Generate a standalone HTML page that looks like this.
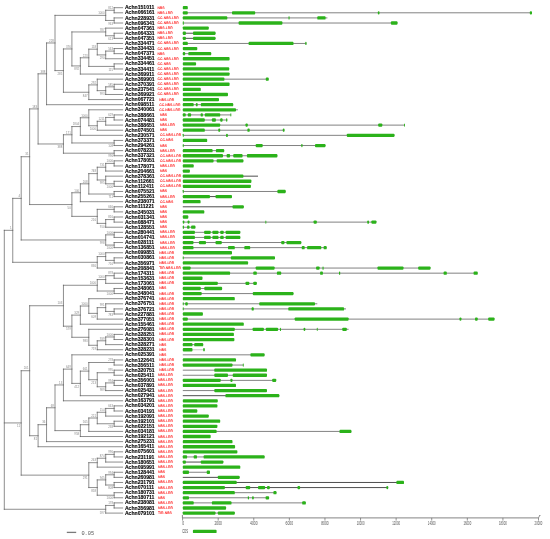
<!DOCTYPE html>
<html lang="en"><head><meta charset="utf-8"><title>Phylogenetic tree and gene structure</title>
<style>html,body{margin:0;padding:0;background:#fff}svg{display:block}.t{stroke:#505050;stroke-width:.65;fill:none;stroke-linecap:square}.n{font:bold 5.12px "Liberation Sans",Arial,sans-serif;fill:#000;stroke:#000;stroke-width:.1}.ty{font:3.45px "Liberation Sans",Arial,sans-serif;fill:#ff1414;stroke:#ff1414;stroke-width:.1;text-rendering:geometricPrecision}.b{font:2.9px "Liberation Sans",Arial,sans-serif;fill:#8a8a8a;text-anchor:end}.ax{font:4.5px "Liberation Sans",Arial,sans-serif;fill:#555;text-anchor:middle}.e{fill:#2bb21a}.i{stroke:#828282;stroke-width:1}.id{stroke:#3a3a3a;stroke-width:.9}.il{stroke:#bbb;stroke-width:.8}</style></head><body>
<svg width="550" height="539" viewBox="0 0 550 539">
<rect width="550" height="539" fill="#fff"/>
<path class="t" d="M4.30 230.33L4.30 509.27M4.30 230.33L12.75 230.33M12.75 198.36L12.75 262.31M12.75 198.36L21.20 198.36M21.20 156.73L21.20 239.98M21.20 156.73L29.65 156.73M29.65 108.91L29.65 204.56M29.65 108.91L38.10 108.91M38.10 73.84L38.10 143.98M38.10 73.84L46.55 73.84M46.55 42.98L46.55 104.70M46.55 42.98L55.00 42.98M55.00 15.36L55.00 70.60M55.00 15.36L105.70 15.36M105.70 10.25L105.70 20.46M105.70 10.25L114.15 10.25M114.15 7.70L114.15 12.80M114.15 7.70L122.60 7.70M114.15 12.80L122.60 12.80M105.70 20.46L114.15 20.46M114.15 17.91L114.15 23.02M114.15 17.91L122.60 17.91M114.15 23.02L122.60 23.02M55.00 70.60L63.45 70.60M63.45 48.94L63.45 92.25M63.45 48.94L71.90 48.94M71.90 31.95L71.90 65.93M71.90 31.95L105.70 31.95M105.70 28.12L105.70 35.78M105.70 28.12L122.60 28.12M105.70 35.78L114.15 35.78M114.15 33.23L114.15 38.33M114.15 33.23L122.60 33.23M114.15 38.33L122.60 38.33M71.90 65.93L80.35 65.93M80.35 57.79L80.35 74.07M80.35 57.79L88.80 57.79M88.80 49.18L88.80 66.41M88.80 49.18L97.25 49.18M97.25 43.44L97.25 54.92M97.25 43.44L122.60 43.44M97.25 54.92L105.70 54.92M105.70 51.09L105.70 58.75M105.70 51.09L114.15 51.09M114.15 48.54L114.15 53.65M114.15 48.54L122.60 48.54M114.15 53.65L122.60 53.65M105.70 58.75L122.60 58.75M88.80 66.41L114.15 66.41M114.15 63.86L114.15 68.96M114.15 63.86L122.60 63.86M114.15 68.96L122.60 68.96M80.35 74.07L122.60 74.07M63.45 92.25L88.80 92.25M88.80 84.91L88.80 99.59M88.80 84.91L97.25 84.91M97.25 79.17L97.25 90.66M97.25 79.17L122.60 79.17M97.25 90.66L105.70 90.66M105.70 86.83L105.70 94.49M105.70 86.83L114.15 86.83M114.15 84.28L114.15 89.38M114.15 84.28L122.60 84.28M114.15 89.38L122.60 89.38M105.70 94.49L122.60 94.49M88.80 99.59L122.60 99.59M46.55 104.70L122.60 104.70M38.10 143.98L63.45 143.98M63.45 134.77L63.45 153.19M63.45 134.77L71.90 134.77M71.90 126.55L71.90 142.98M71.90 126.55L80.35 126.55M80.35 117.78L80.35 135.33M80.35 117.78L88.80 117.78M88.80 109.80L88.80 125.75M88.80 109.80L122.60 109.80M88.80 125.75L97.25 125.75M97.25 121.29L97.25 130.22M97.25 121.29L105.70 121.29M105.70 117.46L105.70 125.12M105.70 117.46L114.15 117.46M114.15 114.91L114.15 120.01M114.15 114.91L122.60 114.91M114.15 120.01L122.60 120.01M105.70 125.12L122.60 125.12M97.25 130.22L122.60 130.22M80.35 135.33L122.60 135.33M71.90 142.98L114.15 142.98M114.15 140.43L114.15 145.53M114.15 140.43L122.60 140.43M114.15 145.53L122.60 145.53M63.45 153.19L114.15 153.19M114.15 150.64L114.15 155.75M114.15 150.64L122.60 150.64M114.15 155.75L122.60 155.75M29.65 204.56L71.90 204.56M71.90 192.76L71.90 216.37M71.90 192.76L80.35 192.76M80.35 183.82L80.35 201.69M80.35 183.82L88.80 183.82M88.80 173.61L88.80 194.03M88.80 173.61L97.25 173.61M97.25 167.23L97.25 179.99M97.25 167.23L105.70 167.23M105.70 163.40L105.70 171.06M105.70 163.40L114.15 163.40M114.15 160.85L114.15 165.96M114.15 160.85L122.60 160.85M114.15 165.96L122.60 165.96M105.70 171.06L122.60 171.06M97.25 179.99L105.70 179.99M105.70 176.16L105.70 183.82M105.70 176.16L122.60 176.16M105.70 183.82L114.15 183.82M114.15 181.27L114.15 186.38M114.15 181.27L122.60 181.27M114.15 186.38L122.60 186.38M88.80 194.03L114.15 194.03M114.15 191.48L114.15 196.59M114.15 191.48L122.60 191.48M114.15 196.59L122.60 196.59M80.35 201.69L122.60 201.69M71.90 216.37L97.25 216.37M97.25 209.35L97.25 223.39M97.25 209.35L114.15 209.35M114.15 206.80L114.15 211.90M114.15 206.80L122.60 206.80M114.15 211.90L122.60 211.90M97.25 223.39L105.70 223.39M105.70 219.56L105.70 227.22M105.70 219.56L114.15 219.56M114.15 217.00L114.15 222.11M114.15 217.00L122.60 217.00M114.15 222.11L122.60 222.11M105.70 227.22L122.60 227.22M21.20 239.98L105.70 239.98M105.70 234.87L105.70 245.08M105.70 234.87L114.15 234.87M114.15 232.32L114.15 237.43M114.15 232.32L122.60 232.32M114.15 237.43L122.60 237.43M105.70 245.08L114.15 245.08M114.15 242.53L114.15 247.64M114.15 242.53L122.60 242.53M114.15 247.64L122.60 247.64M12.75 262.31L97.25 262.31M97.25 256.57L97.25 268.06M97.25 256.57L105.70 256.57M105.70 252.74L105.70 260.40M105.70 252.74L122.60 252.74M105.70 260.40L114.15 260.40M114.15 257.85L114.15 262.95M114.15 257.85L122.60 257.85M114.15 262.95L122.60 262.95M97.25 268.06L122.60 268.06M4.30 422.93L21.20 422.93M21.20 370.73L21.20 475.13M21.20 370.73L29.65 370.73M29.65 305.74L29.65 435.72M29.65 305.74L63.45 305.74M63.45 285.28L63.45 326.20M63.45 285.28L97.25 285.28M97.25 279.54L97.25 291.03M97.25 279.54L105.70 279.54M105.70 275.71L105.70 283.37M105.70 275.71L114.15 275.71M114.15 273.16L114.15 278.26M114.15 273.16L122.60 273.16M114.15 278.26L122.60 278.26M105.70 283.37L122.60 283.37M97.25 291.03L114.15 291.03M114.15 288.48L114.15 293.58M114.15 288.48L122.60 288.48M114.15 293.58L122.60 293.58M63.45 326.20L71.90 326.20M71.90 315.12L71.90 337.29M71.90 315.12L80.35 315.12M80.35 306.02L80.35 324.21M80.35 306.02L88.80 306.02M88.80 298.69L88.80 313.36M88.80 298.69L122.60 298.69M88.80 313.36L97.25 313.36M97.25 307.62L97.25 319.11M97.25 307.62L105.70 307.62M105.70 303.79L105.70 311.45M105.70 303.79L122.60 303.79M105.70 311.45L114.15 311.45M114.15 308.90L114.15 314.00M114.15 308.90L122.60 308.90M114.15 314.00L122.60 314.00M97.25 319.11L122.60 319.11M80.35 324.21L122.60 324.21M71.90 337.29L88.80 337.29M88.80 329.31L88.80 345.27M88.80 329.31L122.60 329.31M88.80 345.27L97.25 345.27M97.25 340.80L97.25 349.74M97.25 340.80L105.70 340.80M105.70 336.97L105.70 344.63M105.70 336.97L114.15 336.97M114.15 334.42L114.15 339.53M114.15 334.42L122.60 334.42M114.15 339.53L122.60 339.53M105.70 344.63L122.60 344.63M97.25 349.74L122.60 349.74M29.65 435.72L38.10 435.72M38.10 424.70L38.10 446.73M38.10 424.70L46.55 424.70M46.55 407.78L46.55 441.62M46.55 407.78L55.00 407.78M55.00 384.95L55.00 430.62M55.00 384.95L63.45 384.95M63.45 369.12L63.45 400.79M63.45 369.12L71.90 369.12M71.90 354.84L71.90 383.40M71.90 354.84L122.60 354.84M71.90 383.40L80.35 383.40M80.35 371.11L80.35 395.68M80.35 371.11L88.80 371.11M88.80 362.50L88.80 379.73M88.80 362.50L114.15 362.50M114.15 359.94L114.15 365.05M114.15 359.94L122.60 359.94M114.15 365.05L122.60 365.05M88.80 379.73L97.25 379.73M97.25 372.71L97.25 386.75M97.25 372.71L114.15 372.71M114.15 370.16L114.15 375.26M114.15 370.16L122.60 370.16M114.15 375.26L122.60 375.26M97.25 386.75L105.70 386.75M105.70 382.92L105.70 390.58M105.70 382.92L114.15 382.92M114.15 380.37L114.15 385.47M114.15 380.37L122.60 380.37M114.15 385.47L122.60 385.47M105.70 390.58L122.60 390.58M80.35 395.68L122.60 395.68M63.45 400.79L122.60 400.79M55.00 430.62L80.35 430.62M80.35 424.71L80.35 436.52M80.35 424.71L88.80 424.71M88.80 418.01L88.80 431.42M88.80 418.01L97.25 418.01M97.25 412.27L97.25 423.76M97.25 412.27L105.70 412.27M105.70 408.44L105.70 416.10M105.70 408.44L114.15 408.44M114.15 405.89L114.15 411.00M114.15 405.89L122.60 405.89M114.15 411.00L122.60 411.00M105.70 416.10L122.60 416.10M97.25 423.76L114.15 423.76M114.15 421.21L114.15 426.31M114.15 421.21L122.60 421.21M114.15 426.31L122.60 426.31M88.80 431.42L122.60 431.42M80.35 436.52L122.60 436.52M46.55 441.62L122.60 441.62M38.10 446.73L122.60 446.73M21.20 475.13L88.80 475.13M88.80 462.68L88.80 487.57M88.80 462.68L97.25 462.68M97.25 458.22L97.25 467.15M97.25 458.22L105.70 458.22M105.70 454.39L105.70 462.05M105.70 454.39L114.15 454.39M114.15 451.84L114.15 456.94M114.15 451.84L122.60 451.84M114.15 456.94L122.60 456.94M105.70 462.05L122.60 462.05M97.25 467.15L122.60 467.15M88.80 487.57L97.25 487.57M97.25 479.91L97.25 495.23M97.25 479.91L105.70 479.91M105.70 474.81L105.70 485.02M105.70 474.81L114.15 474.81M114.15 472.26L114.15 477.36M114.15 472.26L122.60 472.26M114.15 477.36L122.60 477.36M105.70 485.02L114.15 485.02M114.15 482.47L114.15 487.57M114.15 482.47L122.60 482.47M114.15 487.57L122.60 487.57M97.25 495.23L114.15 495.23M114.15 492.68L114.15 497.78M114.15 492.68L122.60 492.68M114.15 497.78L122.60 497.78M4.30 509.27L105.70 509.27M105.70 505.44L105.70 513.10M105.70 505.44L114.15 505.44M114.15 502.89L114.15 507.99M114.15 502.89L122.60 502.89M114.15 507.99L122.60 507.99M105.70 513.10L122.60 513.10"/>
<g class="b">
<text x="11.7" y="229.0">1</text>
<text x="20.1" y="197.1">4</text>
<text x="28.5" y="155.4">31</text>
<text x="37.0" y="107.6">183</text>
<text x="45.4" y="72.5">388</text>
<text x="53.9" y="41.7">228</text>
<text x="104.6" y="14.1">1000</text>
<text x="113.0" y="9.0">812</text>
<text x="113.0" y="24.7">963</text>
<text x="62.3" y="74.8">285</text>
<text x="70.8" y="47.6">376</text>
<text x="104.6" y="30.6">787</text>
<text x="113.0" y="40.0">613</text>
<text x="79.2" y="70.1">892</text>
<text x="87.7" y="56.5">223</text>
<text x="96.1" y="47.9">118</text>
<text x="104.6" y="59.1">290</text>
<text x="113.0" y="49.8">563</text>
<text x="113.0" y="70.6">115</text>
<text x="87.7" y="96.5">847</text>
<text x="96.1" y="83.6">292</text>
<text x="104.6" y="94.9">993</text>
<text x="113.0" y="85.5">585</text>
<text x="62.3" y="148.2">388</text>
<text x="70.8" y="133.5">171</text>
<text x="79.2" y="125.3">1804</text>
<text x="87.7" y="116.5">1000</text>
<text x="96.1" y="130.0">1000</text>
<text x="104.6" y="120.0">1211</text>
<text x="113.0" y="116.2">629</text>
<text x="113.0" y="147.2">108</text>
<text x="113.0" y="157.4">996</text>
<text x="70.8" y="208.8">50</text>
<text x="79.2" y="191.5">100</text>
<text x="87.7" y="182.5">208</text>
<text x="96.1" y="172.3">748</text>
<text x="104.6" y="165.9">731</text>
<text x="113.0" y="162.1">1000</text>
<text x="104.6" y="184.2">995</text>
<text x="113.0" y="188.0">1000</text>
<text x="113.0" y="198.2">711</text>
<text x="96.1" y="220.6">216</text>
<text x="113.0" y="208.0">666</text>
<text x="104.6" y="227.6">910</text>
<text x="113.0" y="218.3">816</text>
<text x="104.6" y="244.2">998</text>
<text x="113.0" y="233.6">1000</text>
<text x="113.0" y="249.3">1000</text>
<text x="96.1" y="266.5">836</text>
<text x="104.6" y="255.3">1000</text>
<text x="113.0" y="264.6">716</text>
<text x="20.1" y="427.1">11</text>
<text x="28.5" y="369.4">201</text>
<text x="62.3" y="304.4">103</text>
<text x="96.1" y="284.0">1000</text>
<text x="104.6" y="278.2">1000</text>
<text x="113.0" y="274.4">878</text>
<text x="113.0" y="295.2">1000</text>
<text x="70.8" y="330.4">579</text>
<text x="79.2" y="313.8">329</text>
<text x="87.7" y="304.7">1000</text>
<text x="96.1" y="317.6">609</text>
<text x="104.6" y="306.3">991</text>
<text x="113.0" y="315.6">783</text>
<text x="87.7" y="341.5">983</text>
<text x="96.1" y="349.5">719</text>
<text x="104.6" y="339.5">939</text>
<text x="113.0" y="335.7">1000</text>
<text x="37.0" y="439.9">81</text>
<text x="45.4" y="423.4">36</text>
<text x="53.9" y="406.5">69</text>
<text x="62.3" y="383.7">13</text>
<text x="70.8" y="367.8">649</text>
<text x="79.2" y="387.6">412</text>
<text x="87.7" y="369.8">661</text>
<text x="113.0" y="361.2">278</text>
<text x="96.1" y="383.9">213</text>
<text x="113.0" y="371.4">995</text>
<text x="104.6" y="390.9">989</text>
<text x="113.0" y="381.6">994</text>
<text x="79.2" y="434.8">958</text>
<text x="87.7" y="423.4">565</text>
<text x="96.1" y="416.7">221</text>
<text x="104.6" y="411.0">154</text>
<text x="113.0" y="407.1">663</text>
<text x="113.0" y="428.0">238</text>
<text x="87.7" y="479.3">291</text>
<text x="96.1" y="461.4">263</text>
<text x="104.6" y="456.9">874</text>
<text x="113.0" y="453.1">996</text>
<text x="96.1" y="491.8">858</text>
<text x="104.6" y="478.6">945</text>
<text x="113.0" y="473.5">994</text>
<text x="113.0" y="489.2">808</text>
<text x="113.0" y="499.4">1000</text>
<text x="104.6" y="513.5">597</text>
<text x="113.0" y="504.1">178</text>
</g>
<g class="n">
<text x="124.9" y="9.30">Achn151011</text>
<text x="124.9" y="14.40">Achn066161</text>
<text x="124.9" y="19.51">Achn228931</text>
<text x="124.9" y="24.62">Achn096341</text>
<text x="124.9" y="29.72">Achn047361</text>
<text x="124.9" y="34.83">Achn064331</text>
<text x="124.9" y="39.93">Achn047351</text>
<text x="124.9" y="45.04">Achn334471</text>
<text x="124.9" y="50.14">Achn334431</text>
<text x="124.9" y="55.25">Achn047371</text>
<text x="124.9" y="60.35">Achn334451</text>
<text x="124.9" y="65.45">Achn334461</text>
<text x="124.9" y="70.56">Achn334411</text>
<text x="124.9" y="75.67">Achn369911</text>
<text x="124.9" y="80.77">Achn369901</text>
<text x="124.9" y="85.88">Achn370391</text>
<text x="124.9" y="90.98">Achn237541</text>
<text x="124.9" y="96.09">Achn369921</text>
<text x="124.9" y="101.19">Achn067721</text>
<text x="124.9" y="106.30">Achn098511</text>
<text x="124.9" y="111.40">Achn340061</text>
<text x="124.9" y="116.51">Achn388661</text>
<text x="124.9" y="121.61">Achn074481</text>
<text x="124.9" y="126.72">Achn388651</text>
<text x="124.9" y="131.82">Achn074501</text>
<text x="124.9" y="136.93">Achn230571</text>
<text x="124.9" y="142.03">Achn373371</text>
<text x="124.9" y="147.13">Achn294261</text>
<text x="124.9" y="152.24">Achn078231</text>
<text x="124.9" y="157.34">Achn337321</text>
<text x="124.9" y="162.45">Achn178051</text>
<text x="124.9" y="167.56">Achn178071</text>
<text x="124.9" y="172.66">Achn204661</text>
<text x="124.9" y="177.76">Achn378361</text>
<text x="124.9" y="182.87">Achn112661</text>
<text x="124.9" y="187.97">Achn112411</text>
<text x="124.9" y="193.08">Achn075521</text>
<text x="124.9" y="198.19">Achn255261</text>
<text x="124.9" y="203.29">Achn238071</text>
<text x="124.9" y="208.40">Achn111221</text>
<text x="124.9" y="213.50">Achn345031</text>
<text x="124.9" y="218.60">Achn031341</text>
<text x="124.9" y="223.71">Achn088471</text>
<text x="124.9" y="228.81">Achn128551</text>
<text x="124.9" y="233.92">Achn280441</text>
<text x="124.9" y="239.03">Achn014741</text>
<text x="124.9" y="244.13">Achn028111</text>
<text x="124.9" y="249.24">Achn136851</text>
<text x="124.9" y="254.34">Achn099851</text>
<text x="124.9" y="259.45">Achn030861</text>
<text x="124.9" y="264.55">Achn356971</text>
<text x="124.9" y="269.66">Achn208841</text>
<text x="124.9" y="274.76">Achn174311</text>
<text x="124.9" y="279.87">Achn153631</text>
<text x="124.9" y="284.97">Achn173061</text>
<text x="124.9" y="290.08">Achn348061</text>
<text x="124.9" y="295.18">Achn348041</text>
<text x="124.9" y="300.29">Achn376741</text>
<text x="124.9" y="305.39">Achn376751</text>
<text x="124.9" y="310.50">Achn376721</text>
<text x="124.9" y="315.60">Achn227881</text>
<text x="124.9" y="320.71">Achn377051</text>
<text x="124.9" y="325.81">Achn155461</text>
<text x="124.9" y="330.92">Achn276081</text>
<text x="124.9" y="336.02">Achn328251</text>
<text x="124.9" y="341.13">Achn328301</text>
<text x="124.9" y="346.23">Achn328271</text>
<text x="124.9" y="351.34">Achn328231</text>
<text x="124.9" y="356.44">Achn025391</text>
<text x="124.9" y="361.55">Achn122641</text>
<text x="124.9" y="366.65">Achn356511</text>
<text x="124.9" y="371.76">Achn320751</text>
<text x="124.9" y="376.86">Achn025411</text>
<text x="124.9" y="381.97">Achn356001</text>
<text x="124.9" y="387.07">Achn037891</text>
<text x="124.9" y="392.18">Achn025421</text>
<text x="124.9" y="397.28">Achn027941</text>
<text x="124.9" y="402.39">Achn163791</text>
<text x="124.9" y="407.49">Achn034201</text>
<text x="124.9" y="412.60">Achn034191</text>
<text x="124.9" y="417.70">Achn192091</text>
<text x="124.9" y="422.81">Achn192101</text>
<text x="124.9" y="427.91">Achn022151</text>
<text x="124.9" y="433.02">Achn034181</text>
<text x="124.9" y="438.12">Achn192121</text>
<text x="124.9" y="443.23">Achn275231</text>
<text x="124.9" y="448.33">Achn165411</text>
<text x="124.9" y="453.44">Achn075601</text>
<text x="124.9" y="458.54">Achn231191</text>
<text x="124.9" y="463.65">Achn180651</text>
<text x="124.9" y="468.75">Achn095991</text>
<text x="124.9" y="473.86">Achn128441</text>
<text x="124.9" y="478.96">Achn260981</text>
<text x="124.9" y="484.07">Achn231791</text>
<text x="124.9" y="489.17">Achn070111</text>
<text x="124.9" y="494.28">Achn180731</text>
<text x="124.9" y="499.38">Achn180711</text>
<text x="124.9" y="504.49">Achn238081</text>
<text x="124.9" y="509.59">Achn356981</text>
<text x="124.9" y="514.70">Achn079101</text>
</g><g class="ty">
<text x="157.6" y="8.70">NBS</text>
<text x="157.6" y="13.80">NBS-LRR</text>
<text x="157.6" y="18.91">CC-NBS-LRR</text>
<text x="157.6" y="24.02">CC-NBS-LRR</text>
<text x="157.6" y="29.12">NBS-LRR</text>
<text x="157.6" y="34.23">NBS-LRR</text>
<text x="157.6" y="39.33">NBS-LRR</text>
<text x="157.6" y="44.44">CC-NBS-LRR</text>
<text x="157.6" y="49.54">CC-NBS-LRR</text>
<text x="157.6" y="54.65">NBS</text>
<text x="157.6" y="59.75">CC-NBS-LRR</text>
<text x="157.6" y="64.86">CC-NBS</text>
<text x="157.6" y="69.96">CC-NBS-LRR</text>
<text x="157.6" y="75.07">CC-NBS-LRR</text>
<text x="157.6" y="80.17">CC-NBS-LRR</text>
<text x="157.6" y="85.28">CC-NBS-LRR</text>
<text x="157.6" y="90.38">CC-NBS-LRR</text>
<text x="157.6" y="95.49">CC-NBS-LRR</text>
<text x="159.2" y="100.59">NBS-LRR</text>
<text x="159.2" y="105.70">CC-NBS-LRR</text>
<text x="159.2" y="110.80">CC-NBS-LRR</text>
<text x="160.0" y="115.91">NBS</text>
<text x="160.0" y="121.01">NBS</text>
<text x="160.0" y="126.12">NBS-LRR</text>
<text x="160.0" y="131.22">NBS</text>
<text x="160.0" y="136.33">CC-NBS-LRR</text>
<text x="160.0" y="141.43">CC-NBS</text>
<text x="160.0" y="146.53">NBS</text>
<text x="160.0" y="151.64">NBS-LRR</text>
<text x="160.0" y="156.75">CC-NBS-LRR</text>
<text x="160.0" y="161.85">CC-NBS-LRR</text>
<text x="160.0" y="166.96">NBS-LRR</text>
<text x="160.0" y="172.06">NBS</text>
<text x="160.0" y="177.16">CC-NBS-LRR</text>
<text x="160.0" y="182.27">CC-NBS-LRR</text>
<text x="160.0" y="187.38">CC-NBS-LRR</text>
<text x="160.0" y="192.48">NBS</text>
<text x="160.0" y="197.59">NBS-LRR</text>
<text x="160.0" y="202.69">CC-NBS</text>
<text x="160.0" y="207.80">NBS</text>
<text x="160.0" y="212.90">NBS</text>
<text x="160.0" y="218.00">NBS</text>
<text x="160.0" y="223.11">NBS</text>
<text x="160.0" y="228.22">NBS</text>
<text x="160.0" y="233.32">NBS-LRR</text>
<text x="160.0" y="238.43">NBS-LRR</text>
<text x="160.0" y="243.53">NBS-LRR</text>
<text x="160.0" y="248.64">NBS-LRR</text>
<text x="159.2" y="253.74">NBS-LRR</text>
<text x="159.2" y="258.85">NBS-LRR</text>
<text x="159.2" y="263.95">NBS-LRR</text>
<text x="159.2" y="269.06">TIR-NBS-LRR</text>
<text x="159.2" y="274.16">NBS-LRR</text>
<text x="159.2" y="279.26">NBS-LRR</text>
<text x="159.2" y="284.37">NBS-LRR</text>
<text x="159.2" y="289.48">NBS</text>
<text x="159.2" y="294.58">NBS-LRR</text>
<text x="159.2" y="299.69">NBS-LRR</text>
<text x="159.2" y="304.79">NBS-LRR</text>
<text x="159.2" y="309.90">NBS-LRR</text>
<text x="159.2" y="315.00">NBS-LRR</text>
<text x="159.2" y="320.11">NBS-LRR</text>
<text x="159.2" y="325.21">NBS-LRR</text>
<text x="159.2" y="330.31">NBS-LRR</text>
<text x="159.2" y="335.42">NBS-LRR</text>
<text x="159.2" y="340.53">NBS-LRR</text>
<text x="159.2" y="345.63">NBS</text>
<text x="159.2" y="350.74">NBS</text>
<text x="159.2" y="355.84">NBS</text>
<text x="159.2" y="360.94">NBS-LRR</text>
<text x="159.2" y="366.05">NBS-LRR</text>
<text x="159.2" y="371.16">NBS-LRR</text>
<text x="158.0" y="376.26">NBS-LRR</text>
<text x="158.0" y="381.37">NBS-LRR</text>
<text x="158.0" y="386.47">NBS-LRR</text>
<text x="158.0" y="391.58">NBS-LRR</text>
<text x="158.0" y="396.68">NBS-LRR</text>
<text x="158.0" y="401.79">NBS-LRR</text>
<text x="158.0" y="406.89">NBS-LRR</text>
<text x="158.0" y="412.00">NBS-LRR</text>
<text x="158.0" y="417.10">NBS-LRR</text>
<text x="158.0" y="422.21">NBS-LRR</text>
<text x="158.0" y="427.31">NBS-LRR</text>
<text x="158.0" y="432.42">NBS-LRR</text>
<text x="158.0" y="437.52">NBS-LRR</text>
<text x="158.0" y="442.62">NBS-LRR</text>
<text x="158.0" y="447.73">NBS-LRR</text>
<text x="158.0" y="452.84">NBS-LRR</text>
<text x="158.0" y="457.94">NBS-LRR</text>
<text x="158.0" y="463.05">NBS-LRR</text>
<text x="158.0" y="468.15">NBS-LRR</text>
<text x="158.0" y="473.26">NBS</text>
<text x="158.0" y="478.36">NBS</text>
<text x="158.0" y="483.47">NBS-LRR</text>
<text x="158.0" y="488.57">NBS-LRR</text>
<text x="158.0" y="493.68">NBS-LRR</text>
<text x="158.0" y="498.78">NBS</text>
<text x="158.0" y="503.89">NBS-LRR</text>
<text x="158.0" y="508.99">NBS-LRR</text>
<text x="158.0" y="514.10">TIR-NBS</text>
</g>
<rect class="e" x="182.8" y="6.05" width="5.0" height="3.3" rx="0.90"/>
<line class="i" x1="182.8" y1="12.80" x2="532.0" y2="12.80"/>
<rect class="e" x="182.8" y="11.15" width="5.0" height="3.3" rx="0.90"/>
<rect class="e" x="232.0" y="11.15" width="23.2" height="3.3" rx="0.90"/>
<rect class="e" x="377.8" y="11.15" width="1.7" height="3.3" rx="0.85"/>
<rect class="e" x="529.8" y="11.15" width="2.2" height="3.3" rx="0.90"/>
<line class="i" x1="182.8" y1="17.91" x2="327.4" y2="17.91"/>
<rect class="e" x="182.8" y="16.26" width="44.5" height="3.3" rx="0.90"/>
<rect class="e" x="288.5" y="16.26" width="1.1" height="3.3" rx="0.55"/>
<rect class="e" x="317.3" y="16.26" width="8.3" height="3.3" rx="0.90"/>
<line class="i" x1="182.8" y1="23.02" x2="397.5" y2="23.02"/>
<rect class="e" x="182.8" y="21.37" width="1.0" height="3.3" rx="0.50"/>
<rect class="e" x="238.6" y="21.37" width="43.8" height="3.3" rx="0.90"/>
<rect class="e" x="390.9" y="21.37" width="6.6" height="3.3" rx="0.90"/>
<rect class="e" x="182.8" y="26.47" width="26.0" height="3.3" rx="0.90"/>
<line class="id" x1="182.8" y1="33.23" x2="215.5" y2="33.23"/>
<rect class="e" x="182.8" y="31.58" width="3.1" height="3.3" rx="0.90"/>
<rect class="e" x="193.0" y="31.58" width="22.5" height="3.3" rx="0.90"/>
<line class="id" x1="182.8" y1="38.33" x2="215.5" y2="38.33"/>
<rect class="e" x="182.8" y="36.68" width="3.1" height="3.3" rx="0.90"/>
<rect class="e" x="193.0" y="36.68" width="22.5" height="3.3" rx="0.90"/>
<line class="i" x1="182.8" y1="43.44" x2="306.5" y2="43.44"/>
<rect class="e" x="182.8" y="41.79" width="5.0" height="3.3" rx="0.90"/>
<rect class="e" x="248.6" y="41.79" width="44.9" height="3.3" rx="0.90"/>
<rect class="e" x="305.3" y="41.79" width="1.2" height="3.3" rx="0.60"/>
<rect class="e" x="182.8" y="46.89" width="14.5" height="3.3" rx="0.90"/>
<line class="i" x1="182.8" y1="53.65" x2="211.2" y2="53.65"/>
<rect class="e" x="182.8" y="52.00" width="2.4" height="3.3" rx="0.90"/>
<rect class="e" x="188.3" y="52.00" width="22.9" height="3.3" rx="0.90"/>
<rect class="e" x="182.8" y="57.10" width="46.8" height="3.3" rx="0.90"/>
<rect class="e" x="182.8" y="62.21" width="13.3" height="3.3" rx="0.90"/>
<rect class="e" x="182.8" y="67.31" width="46.4" height="3.3" rx="0.90"/>
<rect class="e" x="182.8" y="72.42" width="46.8" height="3.3" rx="0.90"/>
<line class="i" x1="182.8" y1="79.17" x2="268.7" y2="79.17"/>
<rect class="e" x="182.8" y="77.52" width="41.6" height="3.3" rx="0.90"/>
<rect class="e" x="265.8" y="77.52" width="2.9" height="3.3" rx="0.90"/>
<rect class="e" x="182.8" y="82.62" width="46.8" height="3.3" rx="0.90"/>
<rect class="e" x="182.8" y="87.73" width="18.0" height="3.3" rx="0.90"/>
<rect class="e" x="182.8" y="92.84" width="45.2" height="3.3" rx="0.90"/>
<rect class="e" x="182.8" y="97.94" width="36.2" height="3.3" rx="0.90"/>
<line class="i" x1="182.8" y1="104.70" x2="233.2" y2="104.70"/>
<rect class="e" x="182.8" y="103.05" width="10.9" height="3.3" rx="0.90"/>
<rect class="e" x="195.8" y="103.05" width="1.9" height="3.3" rx="0.90"/>
<rect class="e" x="200.8" y="103.05" width="32.4" height="3.3" rx="0.90"/>
<line class="i" x1="182.8" y1="109.80" x2="237.9" y2="109.80"/>
<rect class="e" x="182.8" y="108.15" width="53.2" height="3.3" rx="0.90"/>
<line class="i" x1="182.8" y1="114.91" x2="231.0" y2="114.91"/>
<rect class="e" x="182.8" y="113.26" width="2.9" height="3.3" rx="0.90"/>
<rect class="e" x="187.8" y="113.26" width="3.3" height="3.3" rx="0.90"/>
<rect class="e" x="200.6" y="113.26" width="2.3" height="3.3" rx="0.90"/>
<rect class="e" x="204.8" y="113.26" width="15.4" height="3.3" rx="0.90"/>
<rect class="e" x="230.4" y="113.26" width="0.9" height="3.3" rx="0.45"/>
<line class="i" x1="182.8" y1="120.01" x2="227.3" y2="120.01"/>
<rect class="e" x="182.8" y="118.36" width="22.0" height="3.3" rx="0.90"/>
<rect class="e" x="211.9" y="118.36" width="4.0" height="3.3" rx="0.90"/>
<rect class="e" x="220.2" y="118.36" width="2.4" height="3.3" rx="0.90"/>
<rect class="e" x="226.1" y="118.36" width="1.2" height="3.3" rx="0.60"/>
<line class="i" x1="182.8" y1="125.12" x2="404.8" y2="125.12"/>
<rect class="e" x="182.8" y="123.47" width="37.4" height="3.3" rx="0.90"/>
<rect class="e" x="245.5" y="123.47" width="2.3" height="3.3" rx="0.90"/>
<rect class="e" x="378.2" y="123.47" width="4.1" height="3.3" rx="0.90"/>
<rect class="e" x="404.0" y="123.47" width="0.9" height="3.3" rx="0.45"/>
<line class="i" x1="182.8" y1="130.22" x2="284.5" y2="130.22"/>
<rect class="e" x="182.8" y="128.57" width="22.0" height="3.3" rx="0.90"/>
<rect class="e" x="218.3" y="128.57" width="1.9" height="3.3" rx="0.90"/>
<rect class="e" x="247.4" y="128.57" width="2.3" height="3.3" rx="0.90"/>
<rect class="e" x="282.8" y="128.57" width="1.7" height="3.3" rx="0.85"/>
<line class="i" x1="182.8" y1="135.33" x2="394.5" y2="135.33"/>
<rect class="e" x="182.8" y="133.68" width="0.9" height="3.3" rx="0.45"/>
<rect class="e" x="226.1" y="133.68" width="1.7" height="3.3" rx="0.85"/>
<rect class="e" x="346.8" y="133.68" width="47.7" height="3.3" rx="0.90"/>
<rect class="e" x="182.8" y="138.78" width="24.4" height="3.3" rx="0.90"/>
<line class="i" x1="182.8" y1="145.53" x2="325.5" y2="145.53"/>
<rect class="e" x="182.8" y="143.88" width="0.9" height="3.3" rx="0.45"/>
<rect class="e" x="255.7" y="143.88" width="7.0" height="3.3" rx="0.90"/>
<rect class="e" x="301.3" y="143.88" width="1.2" height="3.3" rx="0.60"/>
<rect class="e" x="315.0" y="143.88" width="10.5" height="3.3" rx="0.90"/>
<line class="i" x1="182.8" y1="150.64" x2="224.2" y2="150.64"/>
<rect class="e" x="182.8" y="148.99" width="29.8" height="3.3" rx="0.90"/>
<rect class="e" x="215.9" y="148.99" width="8.3" height="3.3" rx="0.90"/>
<line class="i" x1="182.8" y1="155.75" x2="277.4" y2="155.75"/>
<rect class="e" x="182.8" y="154.09" width="40.2" height="3.3" rx="0.90"/>
<rect class="e" x="226.6" y="154.09" width="3.5" height="3.3" rx="0.90"/>
<rect class="e" x="233.2" y="154.09" width="9.4" height="3.3" rx="0.90"/>
<rect class="e" x="246.9" y="154.09" width="30.5" height="3.3" rx="0.90"/>
<line class="i" x1="182.8" y1="160.85" x2="243.4" y2="160.85"/>
<rect class="e" x="182.8" y="159.20" width="30.8" height="3.3" rx="0.90"/>
<rect class="e" x="216.6" y="159.20" width="26.8" height="3.3" rx="0.90"/>
<rect class="e" x="182.8" y="164.31" width="10.9" height="3.3" rx="0.90"/>
<rect class="e" x="182.8" y="169.41" width="7.1" height="3.3" rx="0.90"/>
<line class="id" x1="182.8" y1="176.16" x2="258.0" y2="176.16"/>
<rect class="e" x="182.8" y="174.51" width="60.6" height="3.3" rx="0.90"/>
<rect class="e" x="182.8" y="179.62" width="68.6" height="3.3" rx="0.90"/>
<rect class="e" x="182.8" y="184.72" width="68.1" height="3.3" rx="0.90"/>
<line class="i" x1="182.8" y1="191.48" x2="285.7" y2="191.48"/>
<rect class="e" x="182.8" y="189.83" width="0.9" height="3.3" rx="0.45"/>
<rect class="e" x="277.4" y="189.83" width="8.3" height="3.3" rx="0.90"/>
<line class="id" x1="182.8" y1="196.59" x2="232.0" y2="196.59"/>
<rect class="e" x="182.8" y="194.94" width="27.2" height="3.3" rx="0.90"/>
<rect class="e" x="215.5" y="194.94" width="16.5" height="3.3" rx="0.90"/>
<rect class="e" x="182.8" y="200.04" width="17.8" height="3.3" rx="0.90"/>
<line class="id" x1="182.8" y1="206.80" x2="243.8" y2="206.80"/>
<rect class="e" x="232.5" y="205.15" width="11.3" height="3.3" rx="0.90"/>
<rect class="e" x="182.8" y="210.25" width="21.5" height="3.3" rx="0.90"/>
<rect class="e" x="182.8" y="215.35" width="5.5" height="3.3" rx="0.90"/>
<line class="i" x1="182.8" y1="222.11" x2="376.4" y2="222.11"/>
<rect class="e" x="182.8" y="220.46" width="1.5" height="3.3" rx="0.75"/>
<rect class="e" x="187.6" y="220.46" width="1.9" height="3.3" rx="0.90"/>
<rect class="e" x="265.4" y="220.46" width="0.9" height="3.3" rx="0.45"/>
<rect class="e" x="313.6" y="220.46" width="3.2" height="3.3" rx="0.90"/>
<rect class="e" x="367.3" y="220.46" width="1.7" height="3.3" rx="0.85"/>
<rect class="e" x="371.4" y="220.46" width="5.0" height="3.3" rx="0.90"/>
<line class="i" x1="182.8" y1="227.22" x2="195.4" y2="227.22"/>
<rect class="e" x="182.8" y="225.56" width="1.2" height="3.3" rx="0.60"/>
<rect class="e" x="187.1" y="225.56" width="2.4" height="3.3" rx="0.90"/>
<rect class="e" x="191.1" y="225.56" width="4.3" height="3.3" rx="0.90"/>
<line class="i" x1="182.8" y1="232.32" x2="240.3" y2="232.32"/>
<rect class="e" x="182.8" y="230.67" width="12.1" height="3.3" rx="0.90"/>
<rect class="e" x="204.1" y="230.67" width="6.6" height="3.3" rx="0.90"/>
<rect class="e" x="212.4" y="230.67" width="6.1" height="3.3" rx="0.90"/>
<rect class="e" x="220.2" y="230.67" width="3.5" height="3.3" rx="0.90"/>
<rect class="e" x="225.6" y="230.67" width="14.7" height="3.3" rx="0.90"/>
<line class="i" x1="182.8" y1="237.43" x2="240.3" y2="237.43"/>
<rect class="e" x="182.8" y="235.78" width="12.1" height="3.3" rx="0.90"/>
<rect class="e" x="204.1" y="235.78" width="6.6" height="3.3" rx="0.90"/>
<rect class="e" x="212.4" y="235.78" width="6.1" height="3.3" rx="0.90"/>
<rect class="e" x="220.2" y="235.78" width="3.5" height="3.3" rx="0.90"/>
<rect class="e" x="225.6" y="235.78" width="14.7" height="3.3" rx="0.90"/>
<line class="i" x1="182.8" y1="242.53" x2="301.3" y2="242.53"/>
<rect class="e" x="182.8" y="240.88" width="10.7" height="3.3" rx="0.90"/>
<rect class="e" x="198.9" y="240.88" width="7.1" height="3.3" rx="0.90"/>
<rect class="e" x="215.5" y="240.88" width="6.3" height="3.3" rx="0.90"/>
<rect class="e" x="281.2" y="240.88" width="3.3" height="3.3" rx="0.90"/>
<rect class="e" x="286.4" y="240.88" width="14.9" height="3.3" rx="0.90"/>
<line class="i" x1="182.8" y1="247.64" x2="326.7" y2="247.64"/>
<rect class="e" x="182.8" y="245.99" width="10.7" height="3.3" rx="0.90"/>
<rect class="e" x="228.0" y="245.99" width="6.8" height="3.3" rx="0.90"/>
<rect class="e" x="244.3" y="245.99" width="5.9" height="3.3" rx="0.90"/>
<rect class="e" x="301.7" y="245.99" width="3.0" height="3.3" rx="0.90"/>
<rect class="e" x="307.1" y="245.99" width="14.2" height="3.3" rx="0.90"/>
<rect class="e" x="323.6" y="245.99" width="3.1" height="3.3" rx="0.90"/>
<rect class="e" x="182.8" y="251.09" width="49.2" height="3.3" rx="0.90"/>
<line class="i" x1="182.8" y1="257.85" x2="275.0" y2="257.85"/>
<rect class="e" x="182.8" y="256.20" width="0.9" height="3.3" rx="0.45"/>
<rect class="e" x="230.8" y="256.20" width="44.2" height="3.3" rx="0.90"/>
<rect class="e" x="182.8" y="261.30" width="65.3" height="3.3" rx="0.90"/>
<line class="i" x1="182.8" y1="268.06" x2="430.5" y2="268.06"/>
<rect class="e" x="182.8" y="266.41" width="7.8" height="3.3" rx="0.90"/>
<rect class="e" x="255.7" y="266.41" width="18.9" height="3.3" rx="0.90"/>
<rect class="e" x="316.1" y="266.41" width="3.5" height="3.3" rx="0.90"/>
<rect class="e" x="322.5" y="266.41" width="1.1" height="3.3" rx="0.55"/>
<rect class="e" x="377.5" y="266.41" width="26.0" height="3.3" rx="0.90"/>
<rect class="e" x="418.2" y="266.41" width="12.3" height="3.3" rx="0.90"/>
<line class="i" x1="182.8" y1="273.16" x2="477.7" y2="273.16"/>
<rect class="e" x="182.8" y="271.51" width="47.3" height="3.3" rx="0.90"/>
<rect class="e" x="253.3" y="271.51" width="3.5" height="3.3" rx="0.90"/>
<rect class="e" x="276.9" y="271.51" width="4.3" height="3.3" rx="0.90"/>
<rect class="e" x="320.1" y="271.51" width="2.8" height="3.3" rx="0.90"/>
<rect class="e" x="339.0" y="271.51" width="1.2" height="3.3" rx="0.60"/>
<rect class="e" x="443.6" y="271.51" width="3.2" height="3.3" rx="0.90"/>
<rect class="e" x="473.6" y="271.51" width="4.1" height="3.3" rx="0.90"/>
<rect class="e" x="182.8" y="276.62" width="19.7" height="3.3" rx="0.90"/>
<line class="i" x1="182.8" y1="283.37" x2="256.8" y2="283.37"/>
<rect class="e" x="182.8" y="281.72" width="35.0" height="3.3" rx="0.90"/>
<rect class="e" x="245.5" y="281.72" width="3.8" height="3.3" rx="0.90"/>
<rect class="e" x="253.3" y="281.72" width="3.5" height="3.3" rx="0.90"/>
<line class="i" x1="182.8" y1="288.48" x2="222.1" y2="288.48"/>
<rect class="e" x="182.8" y="286.83" width="18.0" height="3.3" rx="0.90"/>
<rect class="e" x="204.3" y="286.83" width="17.8" height="3.3" rx="0.90"/>
<line class="i" x1="182.8" y1="293.58" x2="293.5" y2="293.58"/>
<rect class="e" x="182.8" y="291.93" width="18.9" height="3.3" rx="0.90"/>
<rect class="e" x="252.8" y="291.93" width="40.7" height="3.3" rx="0.90"/>
<rect class="e" x="182.8" y="297.04" width="52.0" height="3.3" rx="0.90"/>
<line class="i" x1="182.8" y1="303.79" x2="317.3" y2="303.79"/>
<rect class="e" x="182.8" y="302.14" width="0.9" height="3.3" rx="0.45"/>
<rect class="e" x="185.2" y="302.14" width="2.6" height="3.3" rx="0.90"/>
<rect class="e" x="259.2" y="302.14" width="55.8" height="3.3" rx="0.90"/>
<line class="i" x1="182.8" y1="308.90" x2="346.0" y2="308.90"/>
<rect class="e" x="182.8" y="307.25" width="0.9" height="3.3" rx="0.45"/>
<rect class="e" x="251.6" y="307.25" width="2.2" height="3.3" rx="0.90"/>
<rect class="e" x="288.3" y="307.25" width="55.8" height="3.3" rx="0.90"/>
<rect class="e" x="182.8" y="312.35" width="20.1" height="3.3" rx="0.90"/>
<line class="i" x1="182.8" y1="319.11" x2="494.5" y2="319.11"/>
<rect class="e" x="182.8" y="317.46" width="5.0" height="3.3" rx="0.90"/>
<rect class="e" x="294.7" y="317.46" width="53.9" height="3.3" rx="0.90"/>
<rect class="e" x="459.5" y="317.46" width="1.9" height="3.3" rx="0.90"/>
<rect class="e" x="475.0" y="317.46" width="2.7" height="3.3" rx="0.90"/>
<rect class="e" x="488.2" y="317.46" width="6.3" height="3.3" rx="0.90"/>
<rect class="e" x="182.8" y="322.56" width="61.0" height="3.3" rx="0.90"/>
<line class="i" x1="182.8" y1="329.31" x2="348.6" y2="329.31"/>
<rect class="e" x="182.8" y="327.67" width="52.0" height="3.3" rx="0.90"/>
<rect class="e" x="252.6" y="327.67" width="11.3" height="3.3" rx="0.90"/>
<rect class="e" x="265.8" y="327.67" width="12.3" height="3.3" rx="0.90"/>
<rect class="e" x="280.0" y="327.67" width="1.0" height="3.3" rx="0.50"/>
<rect class="e" x="303.6" y="327.67" width="1.7" height="3.3" rx="0.85"/>
<rect class="e" x="316.8" y="327.67" width="0.9" height="3.3" rx="0.45"/>
<rect class="e" x="342.3" y="327.67" width="4.5" height="3.3" rx="0.90"/>
<rect class="e" x="182.8" y="332.77" width="51.1" height="3.3" rx="0.90"/>
<rect class="e" x="182.8" y="337.88" width="51.6" height="3.3" rx="0.90"/>
<line class="i" x1="182.8" y1="344.63" x2="203.2" y2="344.63"/>
<rect class="e" x="182.8" y="342.98" width="9.7" height="3.3" rx="0.90"/>
<rect class="e" x="194.2" y="342.98" width="9.0" height="3.3" rx="0.90"/>
<line class="il" x1="182.8" y1="349.74" x2="204.8" y2="349.74"/>
<rect class="e" x="182.8" y="348.09" width="9.7" height="3.3" rx="0.90"/>
<rect class="e" x="203.2" y="348.09" width="1.6" height="3.3" rx="0.80"/>
<line class="i" x1="182.8" y1="354.84" x2="264.6" y2="354.84"/>
<rect class="e" x="250.4" y="353.19" width="14.2" height="3.3" rx="0.90"/>
<rect class="e" x="182.8" y="358.30" width="53.2" height="3.3" rx="0.90"/>
<line class="i" x1="182.8" y1="365.05" x2="243.4" y2="365.05"/>
<rect class="e" x="182.8" y="363.40" width="49.7" height="3.3" rx="0.90"/>
<rect class="e" x="242.8" y="363.40" width="0.9" height="3.3" rx="0.45"/>
<line class="i" x1="182.8" y1="370.16" x2="267.0" y2="370.16"/>
<rect class="e" x="214.3" y="368.51" width="52.7" height="3.3" rx="0.90"/>
<line class="i" x1="182.8" y1="375.26" x2="267.0" y2="375.26"/>
<rect class="e" x="214.3" y="373.61" width="13.7" height="3.3" rx="0.90"/>
<rect class="e" x="232.7" y="373.61" width="34.3" height="3.3" rx="0.90"/>
<line class="i" x1="182.8" y1="380.37" x2="276.2" y2="380.37"/>
<rect class="e" x="182.8" y="378.72" width="37.9" height="3.3" rx="0.90"/>
<rect class="e" x="230.4" y="378.72" width="2.1" height="3.3" rx="0.90"/>
<rect class="e" x="272.2" y="378.72" width="4.0" height="3.3" rx="0.90"/>
<rect class="e" x="182.8" y="383.82" width="53.2" height="3.3" rx="0.90"/>
<line class="i" x1="182.8" y1="390.58" x2="267.0" y2="390.58"/>
<rect class="e" x="214.3" y="388.93" width="52.7" height="3.3" rx="0.90"/>
<line class="id" x1="182.8" y1="395.68" x2="279.3" y2="395.68"/>
<rect class="e" x="225.4" y="394.03" width="53.9" height="3.3" rx="0.90"/>
<rect class="e" x="182.8" y="399.14" width="35.0" height="3.3" rx="0.90"/>
<rect class="e" x="182.8" y="404.24" width="34.6" height="3.3" rx="0.90"/>
<rect class="e" x="182.8" y="409.35" width="14.5" height="3.3" rx="0.90"/>
<rect class="e" x="182.8" y="414.45" width="26.0" height="3.3" rx="0.90"/>
<rect class="e" x="182.8" y="419.56" width="37.4" height="3.3" rx="0.90"/>
<rect class="e" x="182.8" y="424.66" width="34.6" height="3.3" rx="0.90"/>
<line class="i" x1="182.8" y1="431.42" x2="351.4" y2="431.42"/>
<rect class="e" x="182.8" y="429.77" width="33.8" height="3.3" rx="0.90"/>
<rect class="e" x="339.5" y="429.77" width="11.9" height="3.3" rx="0.90"/>
<rect class="e" x="182.8" y="434.87" width="27.9" height="3.3" rx="0.90"/>
<rect class="e" x="182.8" y="439.98" width="49.7" height="3.3" rx="0.90"/>
<rect class="e" x="182.8" y="445.08" width="52.3" height="3.3" rx="0.90"/>
<rect class="e" x="182.8" y="450.19" width="54.6" height="3.3" rx="0.90"/>
<line class="i" x1="182.8" y1="456.94" x2="264.6" y2="456.94"/>
<rect class="e" x="182.8" y="455.29" width="4.3" height="3.3" rx="0.90"/>
<rect class="e" x="193.7" y="455.29" width="3.3" height="3.3" rx="0.90"/>
<rect class="e" x="203.6" y="455.29" width="61.0" height="3.3" rx="0.90"/>
<line class="id" x1="182.8" y1="462.05" x2="223.3" y2="462.05"/>
<rect class="e" x="182.8" y="460.40" width="3.1" height="3.3" rx="0.90"/>
<rect class="e" x="200.8" y="460.40" width="22.5" height="3.3" rx="0.90"/>
<rect class="e" x="182.8" y="465.50" width="57.5" height="3.3" rx="0.90"/>
<line class="i" x1="182.8" y1="472.26" x2="210.0" y2="472.26"/>
<rect class="e" x="182.8" y="470.61" width="6.2" height="3.3" rx="0.90"/>
<rect class="e" x="206.7" y="470.61" width="3.3" height="3.3" rx="0.90"/>
<line class="id" x1="182.8" y1="477.36" x2="239.6" y2="477.36"/>
<rect class="e" x="217.8" y="475.71" width="21.8" height="3.3" rx="0.90"/>
<line class="id" x1="182.8" y1="482.47" x2="404.0" y2="482.47"/>
<rect class="e" x="182.8" y="480.82" width="53.9" height="3.3" rx="0.90"/>
<rect class="e" x="396.4" y="480.82" width="7.6" height="3.3" rx="0.90"/>
<line class="id" x1="182.8" y1="487.57" x2="388.2" y2="487.57"/>
<rect class="e" x="182.8" y="485.92" width="42.1" height="3.3" rx="0.90"/>
<rect class="e" x="245.7" y="485.92" width="4.5" height="3.3" rx="0.90"/>
<rect class="e" x="258.0" y="485.92" width="7.1" height="3.3" rx="0.90"/>
<rect class="e" x="267.0" y="485.92" width="2.8" height="3.3" rx="0.90"/>
<rect class="e" x="297.5" y="485.92" width="2.6" height="3.3" rx="0.90"/>
<rect class="e" x="386.4" y="485.92" width="1.8" height="3.3" rx="0.90"/>
<line class="i" x1="182.8" y1="492.68" x2="276.5" y2="492.68"/>
<rect class="e" x="182.8" y="491.03" width="52.0" height="3.3" rx="0.90"/>
<rect class="e" x="273.4" y="491.03" width="3.1" height="3.3" rx="0.90"/>
<line class="i" x1="182.8" y1="497.78" x2="269.1" y2="497.78"/>
<rect class="e" x="182.8" y="496.13" width="6.2" height="3.3" rx="0.90"/>
<rect class="e" x="247.8" y="496.13" width="1.2" height="3.3" rx="0.60"/>
<rect class="e" x="252.1" y="496.13" width="1.7" height="3.3" rx="0.85"/>
<rect class="e" x="265.6" y="496.13" width="3.5" height="3.3" rx="0.90"/>
<line class="i" x1="182.8" y1="502.89" x2="305.8" y2="502.89"/>
<rect class="e" x="182.8" y="501.24" width="10.9" height="3.3" rx="0.90"/>
<rect class="e" x="211.9" y="501.24" width="19.6" height="3.3" rx="0.90"/>
<rect class="e" x="302.2" y="501.24" width="3.6" height="3.3" rx="0.90"/>
<rect class="e" x="182.8" y="506.34" width="43.3" height="3.3" rx="0.90"/>
<line class="i" x1="182.8" y1="513.10" x2="234.8" y2="513.10"/>
<rect class="e" x="182.8" y="511.45" width="32.7" height="3.3" rx="0.90"/>
<rect class="e" x="217.8" y="511.45" width="17.0" height="3.3" rx="0.90"/>
<path d="M182.4 514.9V517.9H538.5" stroke="#666" stroke-width=".8" fill="none"/>
<path d="M182.60 517.9v2.7M218.19 517.9v2.7M253.78 517.9v2.7M289.37 517.9v2.7M324.96 517.9v2.7M360.55 517.9v2.7M396.14 517.9v2.7M431.73 517.9v2.7M467.32 517.9v2.7M502.91 517.9v2.7M538.50 517.9v2.7M538.50 517.9l1.2 -2.4" stroke="#666" stroke-width=".7" fill="none"/>
<g class="ax">
<text x="183.10" y="524.5" textLength="1.9" lengthAdjust="spacingAndGlyphs">0</text>
<text x="218.19" y="524.5" textLength="7.5" lengthAdjust="spacingAndGlyphs">2000</text>
<text x="253.78" y="524.5" textLength="7.5" lengthAdjust="spacingAndGlyphs">4000</text>
<text x="289.37" y="524.5" textLength="7.5" lengthAdjust="spacingAndGlyphs">6000</text>
<text x="324.96" y="524.5" textLength="7.5" lengthAdjust="spacingAndGlyphs">8000</text>
<text x="360.55" y="524.5" textLength="7.8" lengthAdjust="spacingAndGlyphs">10000</text>
<text x="396.14" y="524.5" textLength="7.8" lengthAdjust="spacingAndGlyphs">12000</text>
<text x="431.73" y="524.5" textLength="7.8" lengthAdjust="spacingAndGlyphs">14000</text>
<text x="467.32" y="524.5" textLength="7.8" lengthAdjust="spacingAndGlyphs">16000</text>
<text x="502.91" y="524.5" textLength="7.8" lengthAdjust="spacingAndGlyphs">18000</text>
<text x="538.50" y="524.5" textLength="7.8" lengthAdjust="spacingAndGlyphs">20000</text>
<text x="539.8" y="515.6" style="font-size:2.4px">3'</text>
</g>
<text x="182.3" y="533" style="font:4.7px 'Liberation Sans',Arial,sans-serif;fill:#444" textLength="5.7" lengthAdjust="spacingAndGlyphs">CDS</text>
<rect class="e" x="192.9" y="529.8" width="23.7" height="3.3" rx=".9"/>
<path d="M66.8 532.4H76.2" stroke="#7a7a7a" stroke-width="1.3" fill="none"/>
<text x="81.4" y="534.6" style="font:6.2px 'Liberation Mono','DejaVu Sans Mono',monospace;fill:#555" textLength="12.8" lengthAdjust="spacingAndGlyphs">0.05</text>
</svg></body></html>
